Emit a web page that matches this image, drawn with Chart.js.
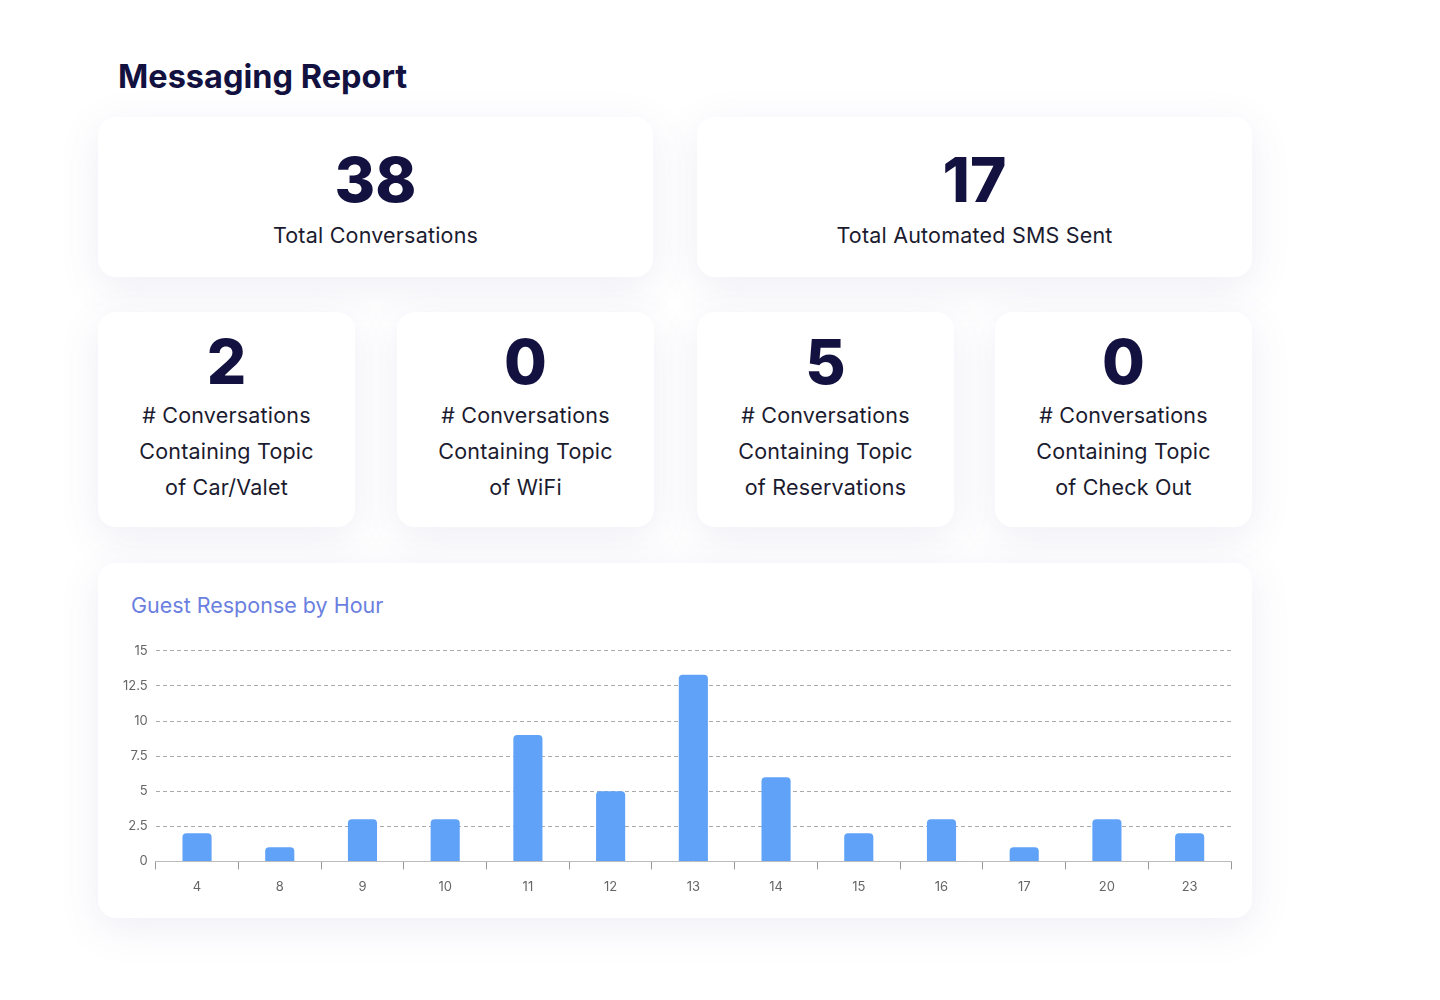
<!DOCTYPE html>
<html><head><meta charset="utf-8">
<script src="https://cdn.jsdelivr.net/npm/chart.js@4"></script>
<style>
body{margin:0;background:#fff;font-family:Inter,"Noto Sans",sans-serif;width:1440px;height:1000px;position:relative;overflow:hidden}
h1{position:absolute;left:118px;top:57px;margin:0;font-size:32.5px;font-weight:700;color:#12113f}
.card{position:absolute;background:#fff;border-radius:18px;box-shadow:0 10px 40px rgba(90,90,170,0.10);text-align:center;color:#1b1b2f}
.num{font-size:62px;font-weight:800;color:#12113f;line-height:1}
.lbl{font-size:21.5px;line-height:36px;letter-spacing:0.2px}
#ct{position:absolute;left:131px;top:592px;font-size:21.5px;color:#6b7fe0}
</style></head><body>
<h1>Messaging Report</h1>
<div class="card" style="left:98px;top:117px;width:555px;height:160px"><div class="num" style="margin-top:32px">38</div><div class="lbl" style="margin-top:6px">Total Conversations</div></div>
<div class="card" style="left:697px;top:117px;width:555px;height:160px"><div class="num" style="margin-top:32px">17</div><div class="lbl" style="margin-top:6px">Total Automated SMS Sent</div></div>
<div class="card" style="left:98px;top:312px;width:257px;height:215px"><div class="num" style="margin-top:19px">2</div><div class="lbl" style="margin-top:4px"># Conversations<br>Containing Topic<br>of Car/Valet</div></div>
<div class="card" style="left:397px;top:312px;width:257px;height:215px"><div class="num" style="margin-top:19px">0</div><div class="lbl" style="margin-top:4px"># Conversations<br>Containing Topic<br>of WiFi</div></div>
<div class="card" style="left:697px;top:312px;width:257px;height:215px"><div class="num" style="margin-top:19px">5</div><div class="lbl" style="margin-top:4px"># Conversations<br>Containing Topic<br>of Reservations</div></div>
<div class="card" style="left:995px;top:312px;width:257px;height:215px"><div class="num" style="margin-top:19px">0</div><div class="lbl" style="margin-top:4px"># Conversations<br>Containing Topic<br>of Check Out</div></div>
<div class="card" style="left:98px;top:563px;width:1154px;height:355px"></div>
<div id="ct">Guest Response by Hour</div>
<div style="position:absolute;left:115px;top:635px;width:1121px;height:270px"><canvas id="c"></canvas></div>
<script>
const hours=["4","8","9","10","11","12","13","14","15","16","17","20","23"];
const responses=[2,1,3,3,9,5,13.3,6,2,3,1,3,2];
const yTicks=[0,2.5,5,7.5,10,12.5,15];
new Chart(document.getElementById('c'),{type:'bar',
data:{labels:hours,datasets:[{data:responses,backgroundColor:'#60a2f8',borderRadius:4,borderSkipped:'bottom',categoryPercentage:0.8,barPercentage:0.44}]},
options:{responsive:true,maintainAspectRatio:false,animation:false,plugins:{legend:{display:false},tooltip:{enabled:false}},
layout:{padding:{top:5,right:5}},
scales:{
x:{grid:{drawOnChartArea:false,tickLength:8,color:'#999'},border:{color:'#bbb'},ticks:{color:'#666',font:{size:13,family:'Inter'},padding:10}},
y:{min:0,max:15,afterBuildTicks:a=>{a.ticks=yTicks.map(v=>({value:v}))},grid:{color:'#aaa',tickLength:8,drawTicks:false},border:{display:false,dash:[4,3]},ticks:{color:'#666',font:{size:13,family:'Inter'},padding:8}}
}}});
</script>
</body></html>
